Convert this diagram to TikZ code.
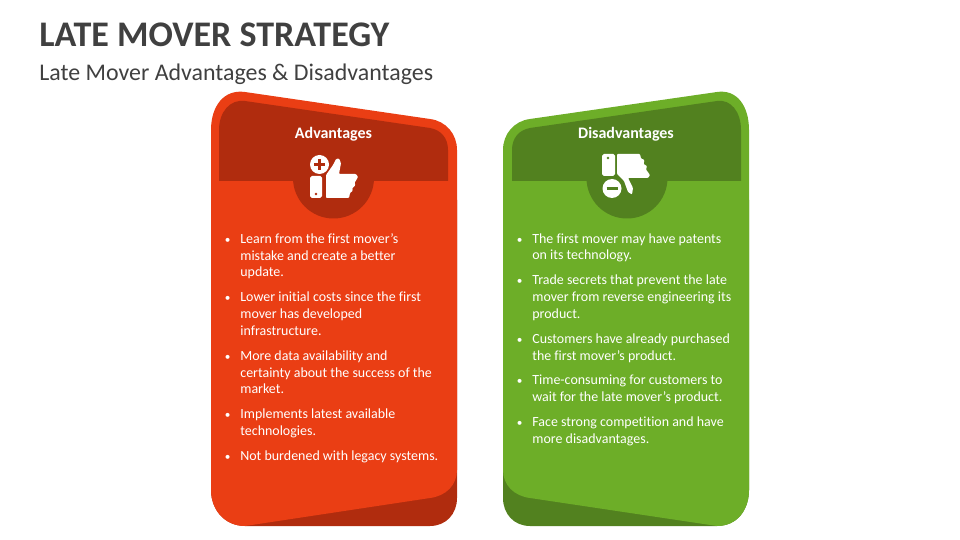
\documentclass[tikz,border=0pt]{standalone}
\usepackage{fontspec}
\setmainfont[Ligatures=CommonOff]{Carlito}
\definecolor{titlegray}{RGB}{64, 64, 64}
\definecolor{orange1}{RGB}{234, 62, 20}
\definecolor{orange2}{RGB}{176, 44, 14}
\definecolor{green1}{RGB}{109, 174, 40}
\definecolor{green2}{RGB}{82, 129, 31}
\usetikzlibrary{positioning}
\newcommand{\bul}{\llap{{\fontsize{6.4}{6.4}\selectfont\textbullet}\hspace{5.6pt}}}

\begin{document}
\begin{tikzpicture}[
  x=0.02cm, y=-0.02cm,
  headtext/.style={text=white, font=\bfseries\fontsize{9.1}{11}\selectfont, inner sep=0pt},
  listtext/.style={text=white, align=left, anchor=north west, inner sep=0pt, font=\fontsize{7.95}{9.6}\selectfont}
]
  \useasboundingbox (0,0) rectangle (960,540);

  % Titles
  \node[anchor=west, inner sep=0pt, text=titlegray, font=\bfseries\fontsize{20.5}{24}\selectfont] (title) at (39,35) {LATE MOVER STRATEGY};
  \node[anchor=west, inner sep=0pt, text=titlegray, font=\fontsize{13.6}{16}\selectfont] (subtitle) at (39,74.5) {Late Mover Advantages \& Disadvantages};

  % Advantages
  \fill[orange2] (211,200) -- (457,200) -- (457,498) .. controls (457,514) and (446,526) .. (430,526) -- (245,526) .. controls (225,526) and (211,510) .. (211,490) -- cycle;
  \fill[orange1] (211,130) .. controls (211,106) and (224,89) .. (245,92) -- (430,119) .. controls (446,121) and (457,134) .. (457,150) -- (457,470) .. controls (457,485) and (446,496) .. (430,498) -- (245,526) .. controls (225,526) and (211,510) .. (211,490) -- cycle;
  \fill[orange2] (219,181) -- (219,130) .. controls (219,112) and (230,99) .. (245,101) -- (430,128) .. controls (441,130) and (448,138) .. (448,150) -- (448,181) -- cycle;
  \fill[orange2] (333.5,178) circle (40.5);
  \node[headtext] (advhead) at (333.5,134) {Advantages};
  % thumb up
  \fill[white] (319.5,164.5) circle (9.5);
  \draw[orange2, line width=1.4pt] (314,164.5) -- (325,164.5) (319.5,159) -- (319.5,170);
  \fill[white, rounded corners=1pt] (310,176) rectangle (322,198);
  \fill[orange2] (316,194) circle (1.3);
  \fill[white, rounded corners=0.5pt] (326,198) -- (326,175) -- (333,165) -- (336,159) -- (339,158.5) -- (341,163) -- (339,174) -- (356,174) -- (358,177) -- (354.5,183) -- (355.5,185) -- (352,188.5) -- (353,190.5) -- (350,193) -- (349,198) -- cycle;
  \node[listtext] (advlist) at (240,233) {
    \bul Learn from the first mover’s\\
    mistake and create a better\\
    update.\\[4.5pt]
    \bul Lower initial costs since the first\\
    mover has developed\\
    infrastructure.\\[4.5pt]
    \bul More data availability and\\
    certainty about the success of the\\
    market.\\[4.5pt]
    \bul Implements latest available\\
    technologies.\\[4.5pt]
    \bul Not burdened with legacy systems.
  };

  % Disadvantages
  \fill[green2] (503,200) -- (749,200) -- (749,490) .. controls (749,510) and (737,526) .. (717,526) -- (530,526) .. controls (514,526) and (503,514) .. (503,498) -- cycle;
  \fill[green1] (503,150) .. controls (503,134) and (514,121) .. (530,119) -- (717,92) .. controls (737,89) and (749,106) .. (749,130) -- (749,490) .. controls (749,510) and (737,526) .. (717,526) -- (530,498) .. controls (514,496) and (503,485) .. (503,470) -- cycle;
  \fill[green2] (512,181) -- (512,150) .. controls (512,138) and (519,130) .. (530,128) -- (717,101) .. controls (731,99) and (741,112) .. (741,130) -- (741,181) -- cycle;
  \fill[green2] (627,178) circle (40.5);
  \node[headtext] (dishead) at (626,134) {Disadvantages};
  % thumb down
  \fill[white, rounded corners=1pt] (602,154) rectangle (615,176);
  \fill[green2] (608,158) circle (1.3);
  \fill[white, rounded corners=0.5pt] (617,154) -- (640,154) -- (641,158.5) -- (644.5,160) -- (643.5,164) -- (647,166) -- (646,169.5) -- (650,175) -- (648,178) -- (628,178) -- (633,188) -- (632,194.5) -- (628,192) -- (624,181) -- (617,174) -- cycle;
  \fill[white] (612,188.5) circle (9.5);
  \draw[green2, line width=1.4pt] (606.5,188.5) -- (617.5,188.5);
  \node[listtext] (dislist) at (532,233) {
    \bul The first mover may have patents\\
    on its technology.\\[4.5pt]
    \bul Trade secrets that prevent the late\\
    mover from reverse engineering its\\
    product.\\[4.5pt]
    \bul Customers have already purchased\\
    the first mover’s product.\\[4.5pt]
    \bul Time-consuming for customers to\\
    wait for the late mover’s product.\\[4.5pt]
    \bul Face strong competition and have\\
    more disadvantages.
  };
\end{tikzpicture}
\end{document}
